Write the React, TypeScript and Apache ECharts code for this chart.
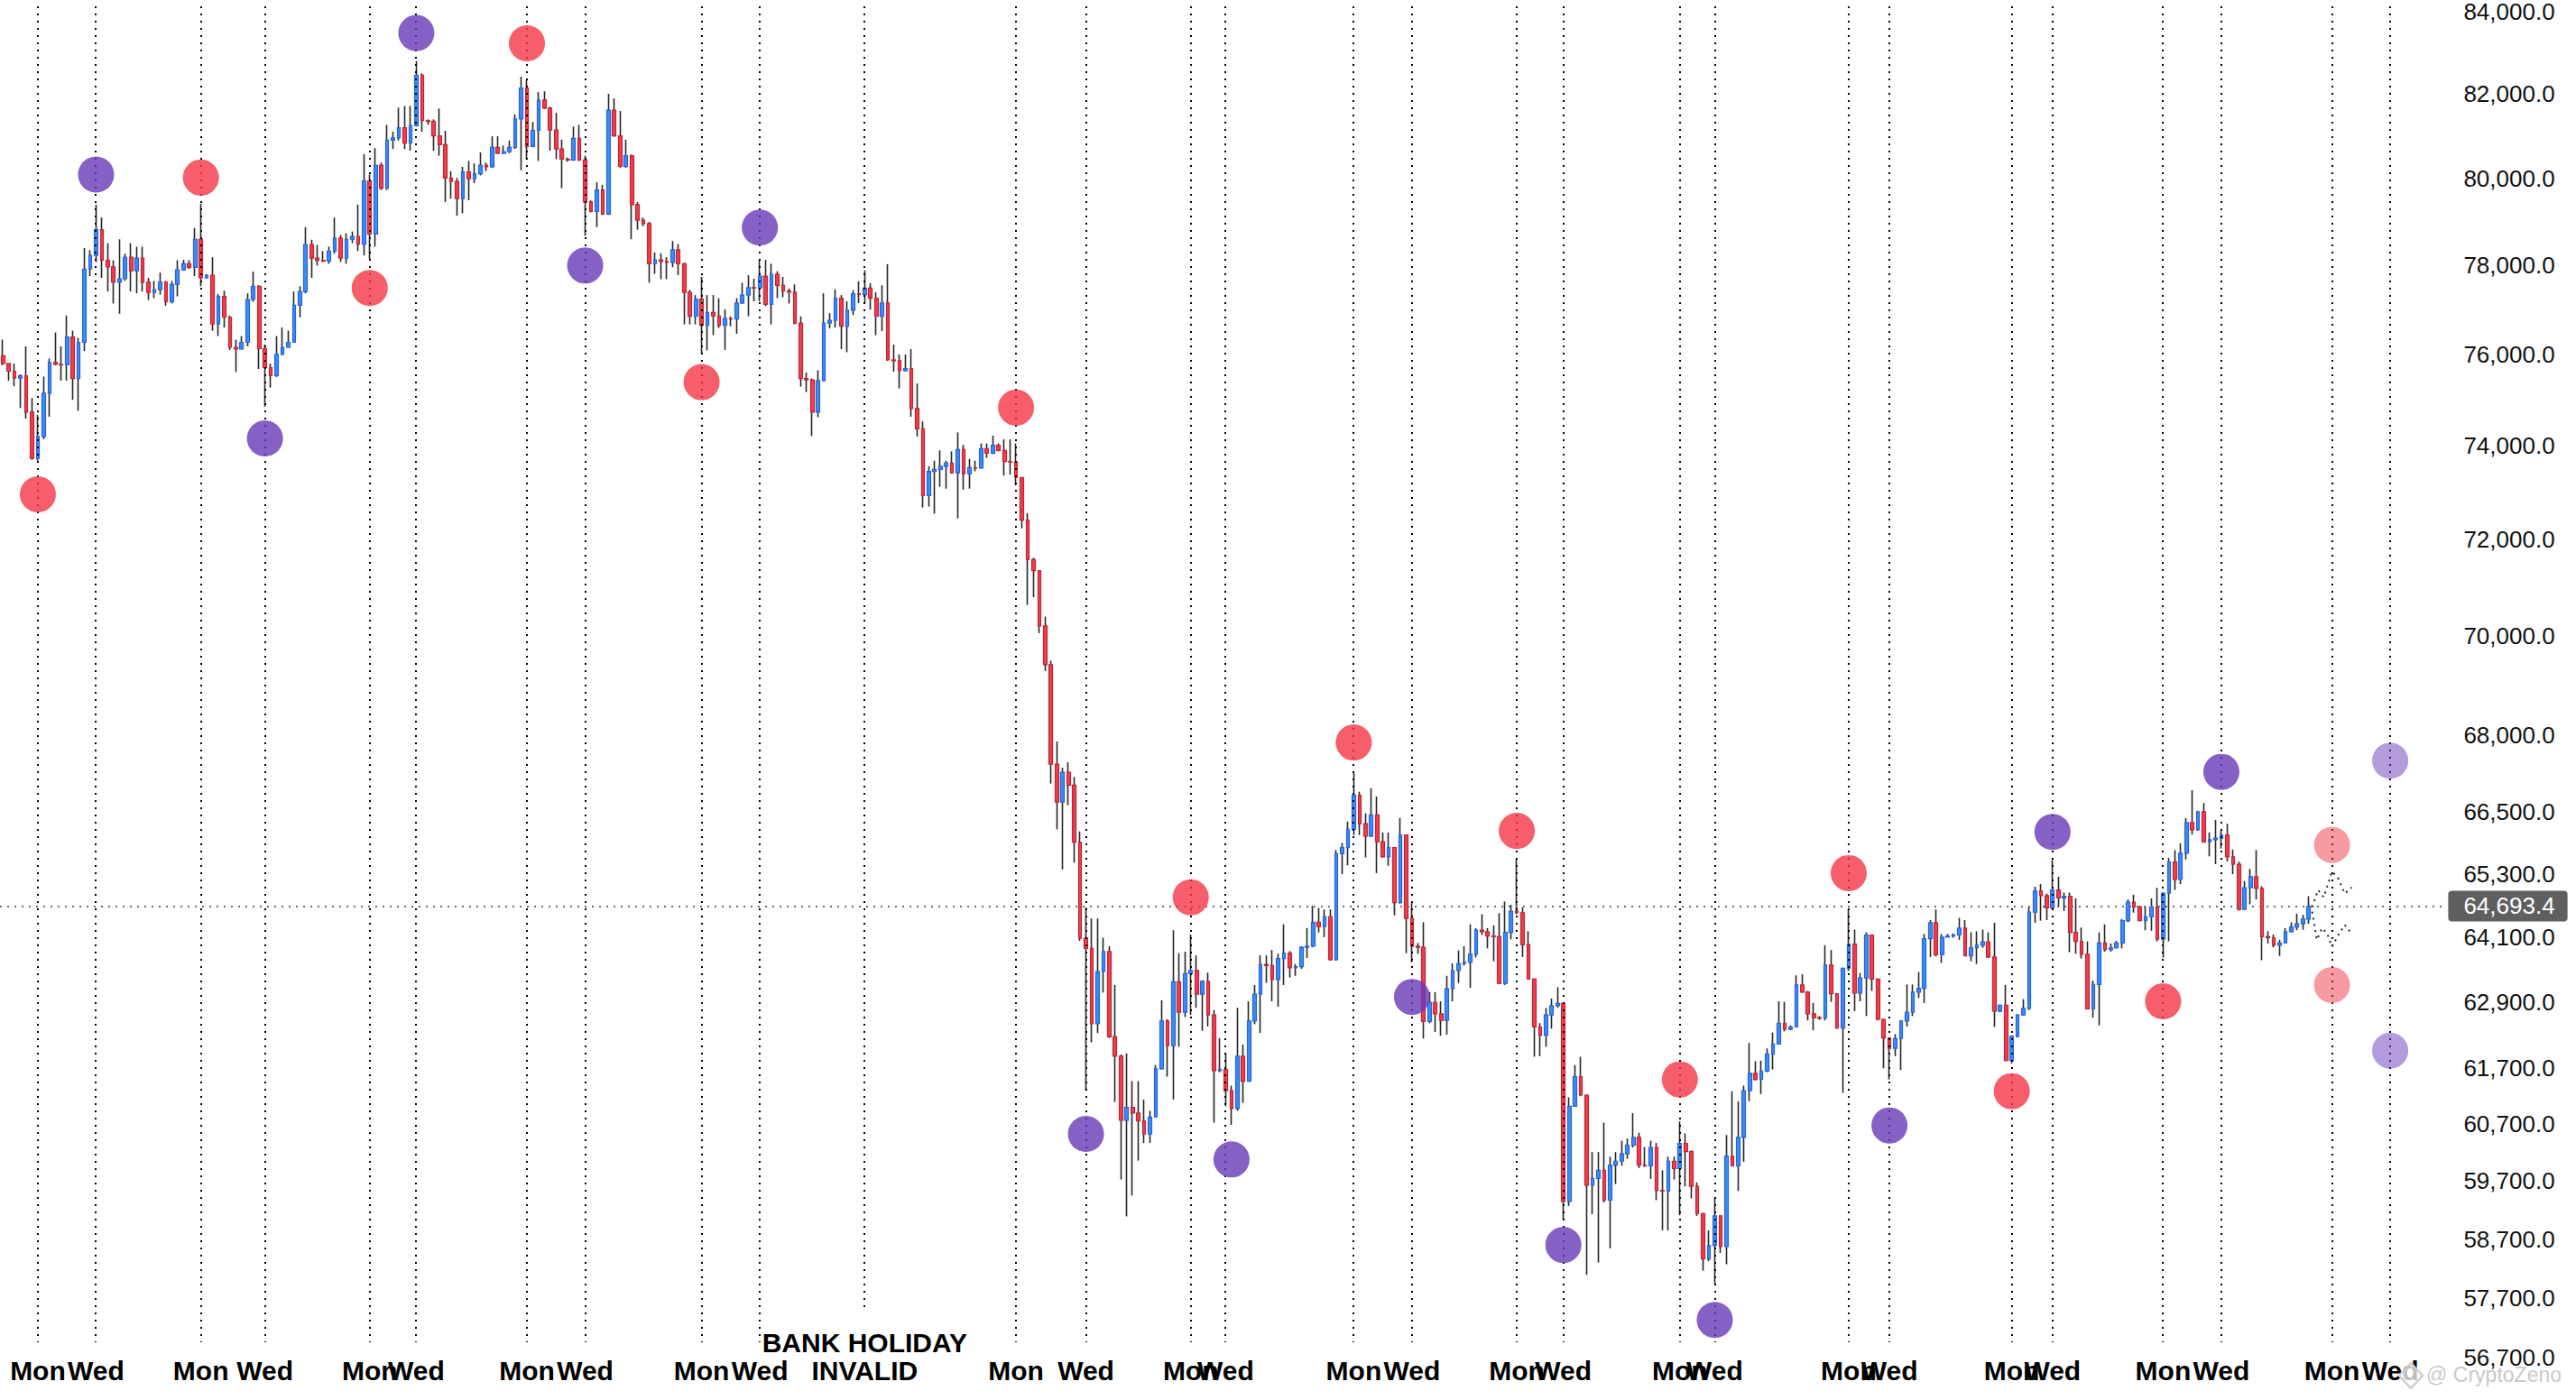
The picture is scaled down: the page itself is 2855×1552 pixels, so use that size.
import React, { useEffect, useRef } from "react";
import * as echarts from "echarts";

// ---- axis ticks / constants ----
const yTicks = [84000, 82000, 80000, 78000, 76000, 74000, 72000, 70000, 68000, 66500, 65300, 64100, 62900, 61700, 60700, 59700, 58700, 57700, 56700];
const yMin = 56700;
const yMax = 84000;
const lastPrice = 64693.4;
const slotCount = 420;

// ---- candles [open, close, low, high] (6h bars) ----
const ohlcA = [
  [75970, 75800, 75760, 76330], [75800, 75630, 75420, 75800], [75630, 75480, 75300, 75800], [75480, 75530, 74820, 75560],
  [75530, 74730, 74590, 76180], [74730, 73730, 73700, 75040], [73730, 74200, 73680, 74670], [74200, 75140, 74140, 75510],
  [75140, 75820, 74630, 75910], [75820, 75780, 75760, 76490], [75780, 75770, 75420, 76180], [75770, 76390, 75420, 76870],
  [76390, 75470, 75000, 76530], [75470, 76270, 74760, 76370], [76270, 77920, 76080, 78400], [77920, 78230, 77760, 78350],
  [78230, 78820, 78080, 79400], [78820, 78120, 77720, 79100], [78120, 77970, 77410, 78510], [77970, 77620, 77140, 78120],
  [77620, 77700, 76910, 78600], [77700, 78190, 77650, 78270], [78190, 77880, 77410, 78510], [77880, 78170, 77370, 78430],
  [78170, 77620, 77410, 78430], [77620, 77390, 77220, 77720], [77390, 77450, 77260, 77650], [77450, 77620, 77340, 77840],
  [77620, 77180, 77090, 77650], [77180, 77570, 77140, 77650], [77570, 77900, 77300, 78120], [77900, 78040, 77880, 78130],
  [78040, 77960, 77920, 78120], [77960, 78600, 77760, 78860], [78600, 77720, 77530, 79420], [77720, 77780, 77700, 77800],
  [77780, 76680, 76530, 78190], [76680, 77300, 76410, 77350], [77300, 76830, 76600, 77430], [76830, 76160, 76100, 76870],
  [76160, 76120, 75610, 76330], [76120, 76270, 76110, 76410], [76270, 77230, 76180, 77370], [77230, 77530, 77180, 77860],
  [77530, 76130, 75680, 77550], [76130, 75710, 74850, 76220], [75710, 75530, 75270, 75800], [75530, 76000, 75500, 76410],
  [76000, 76160, 75990, 76600], [76160, 76270, 76150, 76530], [76270, 77100, 76260, 77410], [77100, 77410, 76830, 77530],
  [77410, 78480, 77370, 78880], [78480, 78170, 77720, 78590], [78170, 78115, 78000, 78470], [78115, 78100, 78080, 78330],
  [78100, 78330, 78040, 78430], [78330, 78630, 78270, 79100], [78630, 78170, 78080, 78700], [78170, 78600, 78040, 78740],
  [78600, 78665, 78510, 78780], [78665, 78490, 78330, 79400], [78490, 79950, 78230, 80580], [79950, 78720, 78150, 80100],
  [78720, 80320, 78430, 80720], [80320, 79780, 79740, 80380], [79780, 80910, 79740, 81270], [80910, 80960, 80700, 81110],
  [80960, 81200, 80900, 81680], [81200, 80840, 80700, 81720], [80840, 81250, 80660, 81720], [81250, 82460, 81230, 82800],
  [82460, 81370, 81110, 82500], [81370, 81350, 81270, 81400], [81350, 81010, 80660, 81400], [81010, 80800, 80540, 81660],
  [80800, 80020, 79460, 81130], [80020, 79940, 79540, 80180], [79940, 79540, 79140, 80020], [79540, 80160, 79200, 80280],
  [80160, 80000, 79500, 80420], [80000, 80120, 79900, 80360], [80120, 80320, 80080, 80620], [80320, 80280, 80180, 80380],
  [80280, 80740, 80260, 81000], [80740, 80600, 80580, 81000], [80600, 80640, 80580, 80780], [80640, 80740, 80600, 80900],
  [80740, 81410, 80700, 81520], [81410, 82150, 80200, 82420], [82150, 80760, 80460, 82340], [80760, 81140, 80740, 81340],
  [81140, 81860, 80420, 82050], [81860, 81670, 81650, 82070], [81670, 81150, 80660, 81700], [81150, 80700, 80460, 81560],
  [80700, 80460, 79780, 80920], [80460, 80440, 80400, 80500], [80440, 80950, 80420, 81230], [80950, 80440, 80420, 81270],
];
const ohlcB = [
  [80440, 79460, 78680, 80540], [79460, 79240, 79220, 79500], [79240, 79740, 78880, 79920], [79740, 79180, 79160, 79860],
  [79180, 81620, 79160, 82010], [81620, 81010, 80990, 81900], [81010, 80290, 80260, 81600], [80290, 80540, 80260, 80920],
  [80540, 79400, 78600, 80570], [79400, 79040, 78820, 79460], [79040, 78960, 78900, 79100], [78960, 78040, 77610, 79000],
  [78040, 78130, 77810, 78300], [78130, 78090, 77690, 78280], [78090, 78070, 77690, 78190], [78070, 78360, 77960, 78560],
  [78360, 78040, 77780, 78490], [78040, 77390, 76670, 78060], [77390, 76850, 76670, 77450], [76850, 77240, 76670, 77330],
  [77240, 76650, 76030, 77740], [76650, 76940, 76090, 77330], [76940, 76860, 76430, 77330], [76860, 76650, 76590, 77260],
  [76650, 76800, 76100, 77010], [76800, 76790, 76630, 76850], [76790, 77150, 76460, 77260], [77150, 77330, 77130, 77610],
  [77330, 77500, 76850, 77780], [77500, 77490, 77190, 77700], [77490, 77760, 77190, 78120], [77760, 77120, 77080, 78130],
  [77120, 77800, 76670, 78040], [77800, 77550, 77260, 77870], [77550, 77420, 77280, 77740], [77420, 77400, 77140, 77480],
  [77400, 76700, 76670, 77570], [76700, 75470, 75290, 76850], [75470, 75440, 75170, 75600], [75440, 74730, 74210, 75470],
  [74730, 75420, 74620, 75650], [75420, 76700, 75410, 77370], [76700, 76760, 76580, 76920], [76760, 77260, 76600, 77460],
  [77260, 76630, 76120, 77330], [76630, 76990, 76050, 77190], [76990, 77360, 76880, 77440], [77360, 77340, 77150, 77640],
  [77340, 77490, 77150, 77890], [77490, 77260, 77000, 77600], [77260, 76850, 76430, 77390], [76850, 77150, 76520, 77550],
  [77150, 75880, 75860, 78030], [75880, 75860, 75620, 76220], [75860, 75640, 75250, 76000], [75640, 75690, 75620, 76000],
  [75690, 74810, 74630, 76120], [74810, 74370, 74200, 75360], [74370, 72930, 72680, 74530], [72930, 73450, 72700, 73560],
  [73450, 73490, 72550, 73680], [73490, 73560, 73120, 73900], [73560, 73630, 73080, 73680], [73630, 73420, 73400, 73880],
  [73420, 73920, 72450, 74290], [73920, 73400, 73060, 74020], [73400, 73530, 73080, 73720], [73530, 73520, 73450, 73680],
  [73520, 73940, 73510, 74050], [73940, 73840, 73740, 74050], [73840, 74010, 73820, 74220], [74010, 73900, 73880, 74050],
  [73900, 73660, 73360, 74140], [73660, 73650, 73380, 74140], [73650, 73320, 73150, 74050], [73320, 72410, 72240, 73320],
  [72410, 71580, 70640, 72560], [71580, 71350, 70800, 71620], [71350, 70210, 70060, 71360], [70210, 69420, 69290, 70400],
  [69420, 67430, 67050, 69500], [67430, 66690, 66160, 67880], [66690, 67270, 65390, 67360], [67270, 67020, 66630, 67470],
  [67020, 65910, 65520, 67180], [65910, 64090, 64040, 66120], [64090, 63900, 61300, 64670], [63900, 62510, 62170, 64460],
  [62510, 63470, 62340, 64460], [63470, 63840, 63080, 64100], [63840, 62270, 62250, 63940], [62270, 61920, 61100, 63220],
  [61920, 60770, 59730, 61950], [60770, 61000, 59090, 61970], [61000, 60900, 59450, 61470], [60900, 60760, 60060, 61470],
  [60760, 60530, 60370, 61140], [60530, 60830, 60370, 60940], [60830, 61690, 60820, 61760], [61690, 62560, 61680, 62940],
];
const ohlcC = [
  [62560, 62110, 61550, 62590], [62110, 63280, 61140, 64240], [63280, 62720, 62090, 63810], [62720, 63430, 62630, 63840],
  [63430, 63490, 62670, 64160], [63490, 63050, 62800, 63770], [63050, 63290, 62380, 63310], [63290, 62670, 62460, 63450],
  [62670, 61660, 60730, 62760], [61660, 61680, 61630, 62250], [61680, 61300, 61020, 61970], [61300, 60980, 60690, 61390],
  [60980, 61920, 60940, 62800], [61920, 61470, 61080, 62130], [61470, 62560, 61460, 62920], [62560, 63050, 62500, 63220],
  [63050, 63600, 62340, 63770], [63600, 63580, 63260, 63770], [63580, 63320, 62920, 63870], [63320, 63710, 62820, 63800],
  [63710, 63810, 63220, 64350], [63810, 63540, 63360, 63850], [63540, 63560, 63390, 63610], [63560, 63920, 63520, 63940],
  [63920, 63940, 63720, 64280], [63940, 64390, 63920, 64700], [64390, 64310, 64200, 64660], [64310, 64490, 64110, 64630],
  [64490, 63690, 63670, 64630], [63690, 65690, 63670, 65760], [65690, 65810, 65300, 65900], [65810, 66160, 65470, 66310],
  [66160, 66820, 66050, 67260], [66820, 66270, 66050, 66890], [66270, 66030, 65620, 66470], [66030, 66440, 66010, 66960],
  [66440, 65920, 65320, 66800], [65920, 65630, 65620, 66100], [65630, 65810, 65460, 66100], [65810, 64760, 64520, 65820],
  [64760, 66050, 64740, 66380], [66050, 64460, 63810, 66060], [64460, 63940, 63640, 64760], [63940, 63920, 63800, 64000],
  [63920, 62550, 62240, 64390], [62550, 62900, 62520, 63090], [62900, 62690, 62360, 63090], [62690, 62570, 62290, 62920],
  [62570, 63150, 62310, 63390], [63150, 63490, 62920, 63620], [63490, 63620, 63260, 63860], [63620, 63640, 63580, 63940],
  [63640, 63790, 63170, 64350], [63790, 64240, 63730, 64280], [64240, 64210, 64150, 64540], [64210, 64130, 63900, 64280],
  [64130, 64120, 63660, 64330], [64120, 63250, 63240, 64560], [63250, 64200, 63220, 64780], [64200, 64600, 64070, 64720],
  [64600, 64570, 64540, 65590], [64570, 63970, 63740, 64670], [63970, 63330, 63320, 64220], [63330, 62450, 61910, 63340],
  [62450, 62300, 61920, 62520], [62300, 62670, 62090, 62800], [62670, 62840, 62420, 62970], [62840, 62880, 62800, 63180],
  [62880, 59350, 59030, 62900], [59350, 61020, 59270, 61180], [61020, 61550, 61010, 61760], [61550, 61220, 61200, 61910],
  [61220, 59630, 58090, 61230], [59630, 59750, 59130, 60210], [59750, 59890, 58300, 60210], [59890, 59370, 59330, 60730],
  [59370, 59980, 58540, 60130], [59980, 60050, 59650, 60210], [60050, 60180, 59970, 60410], [60180, 60330, 60090, 60450],
  [60330, 60470, 60290, 60900], [60470, 59980, 59930, 60550], [59980, 59970, 59950, 60300], [59970, 60290, 59740, 60410],
  [60290, 59540, 59370, 60370], [59540, 59530, 58850, 59890], [59530, 60050, 58850, 60130], [60050, 59920, 59730, 60130],
  [59920, 60360, 59110, 60750], [60360, 60220, 59610, 60540], [60220, 59610, 59400, 60240], [59610, 59140, 59100, 59680],
  [59140, 58360, 58160, 59150], [58360, 58590, 58320, 58850], [58590, 59100, 57940, 59410], [59100, 58570, 58460, 59110],
  [58570, 60140, 58270, 60510], [60140, 59970, 59960, 61290], [59970, 60470, 59530, 61110], [60470, 61300, 60040, 61390],
];
const ohlcD = [
  [61300, 61610, 61110, 62160], [61610, 61500, 61480, 61830], [61500, 61650, 61240, 61840], [61650, 61960, 61630, 62060],
  [61960, 62140, 61680, 62350], [62140, 62520, 62130, 62920], [62520, 62410, 62370, 62910], [62410, 62450, 62390, 62480],
  [62450, 63220, 62440, 63400], [63220, 63090, 63080, 63420], [63090, 62690, 62570, 63110], [62690, 62620, 62390, 62890],
  [62620, 62610, 62580, 62650], [62610, 63590, 62570, 63960], [63590, 63060, 62910, 63870], [63060, 62430, 62420, 63070],
  [62430, 63530, 61260, 63540], [63530, 63980, 63480, 64640], [63980, 63070, 62740, 64250], [63070, 63350, 62920, 63440],
  [63350, 64150, 62650, 64200], [64150, 63330, 63110, 64160], [63330, 62590, 62570, 63340], [62590, 62250, 61700, 62600],
  [62250, 62060, 61500, 62260], [62060, 62240, 61920, 62320], [62240, 62560, 61670, 62570], [62560, 62720, 62460, 63230],
  [62720, 63090, 62650, 63230], [63090, 63160, 62980, 63460], [63160, 64080, 62890, 64170], [64080, 64380, 63740, 64430],
  [64380, 63780, 63750, 64630], [63780, 64110, 63630, 64170], [64110, 64130, 64110, 64170], [64130, 64150, 64100, 64180],
  [64150, 64280, 64060, 64470], [64280, 63760, 63760, 64430], [63760, 63910, 63660, 64200], [63910, 63960, 63610, 64220],
  [63960, 64020, 63910, 64250], [64020, 63740, 63720, 64200], [63740, 62740, 62450, 64380], [62740, 62850, 62720, 62860],
  [62850, 61840, 61830, 63220], [61840, 62280, 61790, 62300], [62280, 62670, 62260, 62680], [62670, 62790, 62660, 62960],
  [62790, 64580, 62760, 64680], [64580, 64980, 64380, 65060], [64980, 64890, 64420, 65110], [64890, 64660, 64430, 64930],
  [64660, 65000, 64620, 65570], [65000, 64850, 64680, 65250], [64850, 64880, 64600, 64950], [64880, 64200, 63830, 64950],
  [64200, 64030, 63800, 64840], [64030, 63790, 63710, 64290], [63790, 62780, 62770, 64030], [62780, 63230, 62620, 63300],
  [63230, 64000, 62480, 64200], [64000, 63880, 63840, 64350], [63880, 63910, 63840, 63990], [63910, 64000, 63900, 64040],
  [64000, 64420, 63900, 64450], [64420, 64770, 64390, 64820], [64770, 64680, 64570, 64910], [64680, 64420, 64410, 64700],
  [64420, 64490, 64240, 64700], [64490, 64680, 64230, 64840], [64680, 64070, 64030, 65040], [64070, 64940, 63730, 64950],
  [64940, 65530, 64030, 65610], [65530, 65200, 65000, 65760], [65200, 65700, 65110, 65890], [65700, 66290, 65580, 66380],
  [66290, 66150, 66060, 66920], [66150, 66500, 66130, 66520], [66500, 65920, 65900, 66670], [65920, 65960, 65640, 66100],
  [65960, 65990, 65490, 66340], [65990, 66050, 65790, 66130], [66050, 65630, 65540, 66270], [65630, 65490, 65300, 65770],
  [65490, 64630, 64610, 65540], [64630, 65040, 64620, 65170], [65040, 65250, 64730, 65400], [65250, 65030, 64820, 65760],
  [65030, 64120, 63680, 65070], [64120, 64100, 63990, 64220], [64100, 63960, 63920, 64160], [63960, 64000, 63760, 64060],
  [64000, 64210, 63990, 64280], [64210, 64300, 64200, 64390], [64300, 64360, 64240, 64550], [64360, 64450, 64250, 64530],
  [64450, 64690, 64360, 64880],
];

// ---- day markers (bar index) ----
const markerIdx = [6, 16, 34, 45, 63, 71, 90, 100, 120, 130, 148, 174, 186, 204, 210, 232, 242, 260, 268, 288, 294, 317, 324, 345, 352, 371, 381, 400, 410];
const markerLabels = ["Mon", "Wed", "Mon", "Wed", "Mon", "Wed", "Mon", "Wed", "Mon", "Wed", "BANK HOLIDAY|INVALID", "Mon", "Wed", "Mon", "Wed", "Mon", "Wed", "Mon", "Wed", "Mon", "Wed", "Mon", "Wed", "Mon", "Wed", "Mon", "Wed", "Mon", "Wed"];

// ---- dots [bar index, price] ----
const redDots = [[6, 72960], [34, 80030], [63, 77490], [90, 83230], [120, 75390], [174, 74830], [204, 64860], [232, 67860], [260, 66130], [288, 61500], [317, 65320], [345, 61290], [371, 62920]];
const purpleDots = [[16, 80100], [45, 74160], [71, 83480], [100, 78000], [130, 78870], [186, 60530], [211, 60080], [242, 63000], [268, 58600], [294, 57330], [324, 60680], [352, 66110], [381, 67280]];
const projRedDots = [[400, 65860], [400, 63220]];
const projPurpleDots = [[410, 67500], [410, 62020]];

// ---- projected dotted paths ----
const projUp = [[396.6, 64675], [397.6, 65000], [398.6, 64860], [400.0, 65350], [401.0, 65240], [402.2, 64930], [403.4, 65050]];
const projDown = [[396.6, 64590], [397.4, 64060], [398.3, 64280], [399.2, 64170], [400.0, 63930], [401.2, 64170], [402.2, 64340], [403.4, 64170]];

const L = Math.log;
const FONT = '"Liberation Sans", Arial, Helvetica, sans-serif';

function fmtPrice(v: number) {
  const p = Math.round(Math.exp(v) / 100) * 100;
  return p.toLocaleString("en-US") + ".0";
}

function buildOption() {
  const candles = [...ohlcA, ...ohlcB, ...ohlcC, ...ohlcD];
  const slots = Array.from({ length: slotCount }, (_, i) => String(i));
  const wickData = candles.map(([o, c, l, h]) => [L(o), L(c), L(Math.min(l, o, c)), L(Math.max(h, o, c))]);
  const bodyData = candles.map(([o, c]) => [L(o), L(c), L(Math.min(o, c)), L(Math.max(o, c))]);
  const toXY = (arr: number[][]) => arr.map(([x, p]) => [x, L(p)]);
  const wick = "#262626";

  return {
    animation: false,
    grid: { left: -2, right: 144.6, top: 6.1, bottom: 46.8 },
    xAxis: [
      { type: "category", data: slots, show: false, boundaryGap: true },
      { type: "value", min: -0.5, max: slotCount - 0.5, show: false },
    ],
    yAxis: {
      type: "value",
      position: "right",
      min: L(yMin),
      max: L(yMax),
      axisLine: { show: false },
      axisTick: { show: false },
      splitLine: { show: false },
      axisLabel: {
        customValues: yTicks.map(L),
        formatter: (v: number) => fmtPrice(v),
        margin: 20,
        fontSize: 26,
        color: "#111",
        fontFamily: FONT,
        showMinLabel: true,
        showMaxLabel: true,
      },
    },
    graphic: [
      {
        type: "polygon",
        z: 100,
        shape: { points: [[2672, 1511], [2685, 1525], [2672, 1539], [2659, 1525]] },
        style: { fill: "rgba(255,255,255,0.75)", stroke: "#cfcfcf", lineWidth: 2.5 },
      },
      {
        type: "text",
        right: 16,
        bottom: 17,
        z: 100,
        style: { text: "@ CryptoZeno", fill: "#c9c9c9", fontSize: 23, fontFamily: FONT },
      },
    ],
    series: [
      {
        type: "candlestick",
        name: "wick",
        xAxisIndex: 0,
        yAxisIndex: 0,
        z: 2,
        silent: true,
        barWidth: 1,
        data: wickData,
        itemStyle: {
          color: wick, color0: wick, borderColor: wick, borderColor0: wick, borderColorDoji: wick, borderWidth: 1.6,
        },
      },
      {
        type: "candlestick",
        name: "body",
        xAxisIndex: 0,
        yAxisIndex: 0,
        z: 3,
        silent: true,
        barWidth: 4.2,
        data: bodyData,
        itemStyle: {
          color: "#3b8cf6",
          borderColor: "#2764d8",
          color0: "#ef3e4d",
          borderColor0: "#bf2634",
          borderColorDoji: "#bf2634",
          borderWidth: 1.2,
        },
        markLine: {
          symbol: "none",
          silent: true,
          animation: false,
          precision: 8,
          lineStyle: { color: "#6b6b6b", type: [2, 6], width: 2 },
          label: {
            position: "end",
            formatter: lastPrice.toLocaleString("en-US", { minimumFractionDigits: 1, maximumFractionDigits: 1 }),
            color: "#fff",
            fontSize: 26,
            fontFamily: FONT,
            backgroundColor: "#5f5f5f",
            padding: [4, 14, 4, 17],
            borderRadius: 4,
            distance: 3,
          },
          data: [{ yAxis: L(lastPrice) }],
        },
      },
      {
        type: "custom",
        name: "markers",
        xAxisIndex: 1,
        yAxisIndex: 0,
        z: 5,
        silent: true,
        data: markerIdx.map((x) => [x, L(70000)]),
        renderItem: (params: any, api: any) => {
          const xr = api.coord([api.value(0), api.value(1)])[0];
          const x = Math.round(xr);
          const cs = params.coordSys;
          const bottom = cs.y + cs.height;
          const label = markerLabels[params.dataIndex];
          const holiday = label.indexOf("|") >= 0;
          const textStyle = (t: string, y: number) => ({
            type: "text",
            style: {
              text: t, x: xr, y, align: "center", verticalAlign: "middle",
              fill: "#000", fontSize: 30, fontWeight: "bold", fontFamily: FONT,
            },
          });
          const children: any[] = [
            {
              type: "line",
              shape: { x1: x, y1: Math.round(cs.y) - 6, x2: x, y2: Math.round(holiday ? bottom - 50 : bottom - 17) },
              style: { stroke: "#000", lineWidth: 2, lineDash: [2, 6] },
            },
          ];
          if (holiday) {
            const [a, b] = label.split("|");
            children.push(textStyle(a, bottom - 17));
            children.push(textStyle(b, bottom + 14));
          } else {
            children.push(textStyle(label, bottom + 14));
          }
          return { type: "group", children };
        },
      },
      {
        type: "line",
        xAxisIndex: 1,
        yAxisIndex: 0,
        z: 5,
        silent: true,
        symbol: "none",
        data: toXY(projUp),
        lineStyle: { color: "#222", width: 2, type: [2, 5] },
      },
      {
        type: "line",
        xAxisIndex: 1,
        yAxisIndex: 0,
        z: 5,
        silent: true,
        symbol: "none",
        data: toXY(projDown),
        lineStyle: { color: "#222", width: 2, type: [2, 5] },
      },
      {
        type: "scatter",
        xAxisIndex: 1,
        yAxisIndex: 0,
        z: 6,
        silent: true,
        symbolSize: 40,
        data: toXY(redDots),
        itemStyle: { color: "#f23645" },
      },
      {
        type: "scatter",
        xAxisIndex: 1,
        yAxisIndex: 0,
        z: 6,
        silent: true,
        symbolSize: 40,
        data: toXY(purpleDots),
        itemStyle: { color: "#673ab7" },
      },
      {
        type: "scatter",
        xAxisIndex: 1,
        yAxisIndex: 0,
        z: 6,
        silent: true,
        symbolSize: 40,
        data: toXY(projRedDots),
        itemStyle: { color: "#f23645", opacity: 0.5 },
      },
      {
        type: "scatter",
        xAxisIndex: 1,
        yAxisIndex: 0,
        z: 6,
        silent: true,
        symbolSize: 40,
        data: toXY(projPurpleDots),
        itemStyle: { color: "#673ab7", opacity: 0.5 },
      },
    ],
  };
}

export default function App() {
  const ref = useRef<HTMLDivElement>(null);
  useEffect(() => {
    if (!ref.current) return;
    const chart = echarts.init(ref.current, undefined, { renderer: "svg" });
    chart.setOption(buildOption() as any);
    return () => chart.dispose();
  }, []);
  return (
    <div
      ref={ref}
      style={{ position: "fixed", left: 0, top: 0, width: 2855, height: 1552, background: "#fff" }}
    />
  );
}
